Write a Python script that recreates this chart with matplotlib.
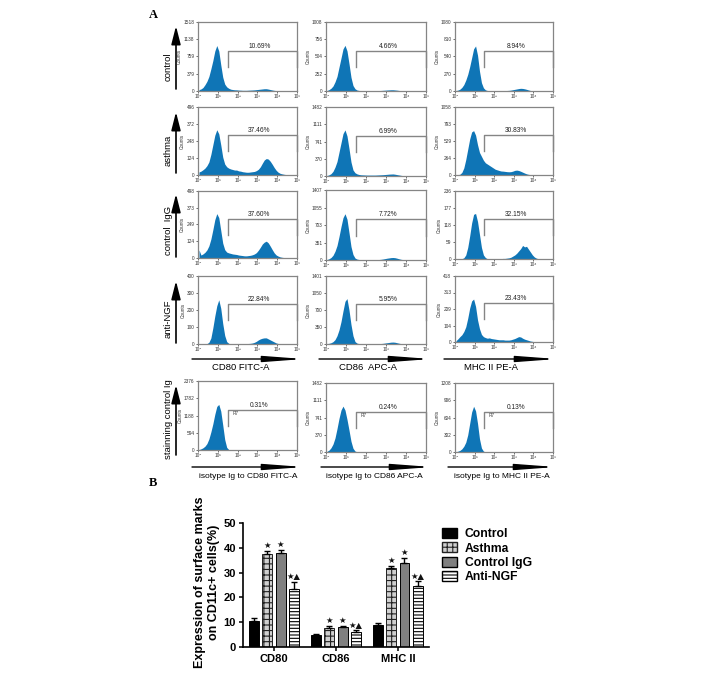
import matplotlib
matplotlib.use("Agg")
import matplotlib.pyplot as plt
import numpy as np
from matplotlib.patches import Patch

plt.rcParams['font.family'] = ['Liberation Sans', 'DejaVu Sans']
plt.rcParams['hatch.linewidth'] = 0.8

W, H = 708, 678

# flow histograms, counts per 0.1 decade bin from 10^0 to 10^5
control_cd80 = [30, 45, 76, 137, 212, 319, 486, 668, 880, 1000, 880, 577, 304, 152, 91, 60, 40, 32, 26, 25,
                20, 18, 15, 15, 15, 18, 20, 22, 25, 30, 35, 40, 45, 50, 50, 42, 32, 22, 14, 9,
                6, 4, 3, 2, 1, 1, 0, 0, 0, 0]
control_cd86 = [7, 20, 40, 73, 133, 213, 347, 480, 614, 667, 587, 400, 200, 80, 33, 14, 8, 6, 5, 4,
                4, 4, 4, 5, 5, 6, 7, 8, 10, 12, 14, 16, 18, 18, 15, 12, 8, 5, 3, 2,
                1, 1, 0, 0, 0, 0, 0, 0, 0, 0]
control_mhc = [7, 14, 28, 56, 100, 170, 260, 380, 520, 660, 705, 560, 310, 130, 50, 18, 8, 6, 5, 4,
               4, 4, 5, 5, 6, 7, 8, 10, 14, 20, 26, 32, 38, 42, 40, 34, 26, 16, 8, 4,
               2, 1, 1, 0, 0, 0, 0, 0, 0, 0]
asthma_cd80 = [22, 28, 38, 50, 68, 95, 150, 220, 290, 330, 300, 220, 130, 80, 60, 50, 44, 40, 36, 36,
               30, 28, 24, 22, 20, 20, 22, 24, 26, 32, 42, 60, 86, 110, 120, 116, 100, 78, 54, 34,
               20, 12, 8, 5, 3, 2, 1, 0, 0, 0]
asthma_cd86 = [10, 25, 50, 100, 190, 310, 510, 710, 910, 990, 860, 590, 300, 130, 70, 45, 32, 26, 24, 22,
               20, 20, 20, 20, 20, 22, 24, 26, 28, 32, 36, 40, 42, 44, 38, 30, 22, 14, 8, 5,
               3, 2, 1, 0, 0, 0, 0, 0, 0, 0]
asthma_mhc = [0, 4, 12, 40, 110, 240, 400, 560, 670, 690, 620, 470, 350, 290, 230, 190, 170, 150, 130, 110,
              90, 80, 70, 62, 60, 56, 52, 50, 52, 60, 72, 76, 70, 58, 44, 30, 18, 10, 6, 3,
              2, 1, 0, 0, 0, 0, 0, 0, 0, 0]
igg_cd80 = [60, 22, 30, 42, 60, 90, 140, 210, 285, 330, 300, 205, 110, 62, 44, 38, 34, 30, 28, 26,
            22, 20, 18, 16, 16, 18, 20, 24, 30, 40, 58, 80, 104, 118, 125, 112, 88, 62, 38, 22,
            14, 8, 5, 3, 2, 1, 0, 0, 0, 0]
igg_cd86 = [9, 25, 50, 95, 175, 290, 470, 670, 850, 930, 820, 550, 270, 110, 40, 18, 10, 6, 6, 5,
            5, 5, 5, 6, 6, 8, 10, 14, 20, 28, 36, 42, 48, 50, 46, 36, 24, 14, 8, 4,
            2, 1, 0, 0, 0, 0, 0, 0, 0, 0]
igg_mhc = [0, 0, 0, 1, 4, 14, 40, 80, 125, 155, 158, 130, 85, 40, 14, 5, 1, 1, 0, 0,
           1, 1, 1, 1, 2, 2, 3, 4, 6, 10, 14, 20, 28, 36, 47, 42, 44, 34, 24, 14,
           7, 3, 1, 1, 0, 0, 0, 0, 0, 0]
ngf_cd80 = [0, 0, 0, 0, 2, 10, 35, 95, 165, 225, 260, 210, 120, 50, 14, 4, 1, 1, 0, 0,
            0, 0, 1, 1, 2, 3, 4, 6, 10, 16, 24, 30, 34, 36, 36, 30, 24, 18, 12, 6,
            3, 2, 1, 0, 0, 0, 0, 0, 0, 0]
ngf_cd86 = [8, 14, 26, 48, 90, 170, 290, 460, 680, 880, 935, 700, 400, 170, 50, 18, 8, 5, 4, 4,
            4, 4, 4, 5, 5, 6, 8, 10, 14, 20, 26, 32, 38, 40, 36, 26, 16, 8, 4, 2,
            1, 0, 0, 0, 0, 0, 0, 0, 0, 0]
ngf_mhc = [8, 20, 34, 46, 66, 96, 150, 215, 260, 272, 225, 140, 84, 48, 34, 28, 24, 26, 22, 20,
           18, 16, 14, 14, 14, 12, 12, 12, 14, 18, 22, 28, 34, 32, 24, 18, 14, 10, 6, 4,
           2, 1, 1, 0, 0, 0, 0, 0, 0, 0]
iso_cd80 = [14, 40, 75, 130, 220, 380, 620, 900, 1230, 1500, 1570, 1340, 860, 360, 90, 16, 4, 1, 0, 0,
            0, 0, 0, 0, 0, 0, 0, 0, 0, 0, 0, 0, 0, 0, 0, 0, 0, 0, 0, 0,
            0, 0, 0, 0, 0, 0, 0, 0, 0, 0]
iso_cd86 = [14, 40, 90, 170, 300, 500, 720, 900, 985, 900, 700, 470, 230, 80, 20, 5, 1, 0, 0, 0,
            0, 0, 0, 0, 0, 0, 0, 0, 0, 0, 0, 0, 0, 0, 0, 0, 0, 0, 0, 0,
            0, 0, 0, 0, 0, 0, 0, 0, 0, 0]
iso_mhc = [6, 14, 28, 55, 100, 170, 300, 500, 700, 800, 720, 500, 230, 70, 15, 3, 0, 0, 0, 0,
           0, 0, 0, 0, 0, 0, 0, 0, 0, 0, 0, 0, 0, 0, 0, 0, 0, 0, 0, 0,
           0, 0, 0, 0, 0, 0, 0, 0, 0, 0]

panel_hists = [[control_cd80, control_cd86, control_mhc],
               [asthma_cd80, asthma_cd86, asthma_mhc],
               [igg_cd80, igg_cd86, igg_mhc],
               [ngf_cd80, ngf_cd86, ngf_mhc],
               [iso_cd80, iso_cd86, iso_mhc]]
panel_ymax = [[1518, 1008, 1080],
              [496, 1482, 1058],
              [498, 1407, 236],
              [400, 1401, 418],
              [2376, 1482, 1208]]
panel_pct = [['10.69%', '4.66%', '8.94%'],
             ['37.46%', '6.99%', '30.83%'],
             ['37.60%', '7.72%', '32.15%'],
             ['22.84%', '5.95%', '23.43%'],
             ['0.31%', '0.24%', '0.13%']]
row_labels = ['control', 'asthma', 'control  IgG', 'anti-NGF', 'stainning control Ig']
x_labels = ['CD80 FITC-A', 'CD86  APC-A', 'MHC II PE-A']
iso_labels = ['isotype Ig to CD80 FITC-A', 'isotype Ig to CD86 APC-A', 'isotype Ig to MHC II PE-A']
decade_labels = ['10⁰', '10¹', '10²', '10³', '10⁴', '10⁵']

# bar chart
groups = ['CD80', 'CD86', 'MHC II']
series = ['Control', 'Asthma', 'Control IgG', 'Anti-NGF']
control_mean = [10.5, 5.0, 9.0]
asthma_mean = [37.3, 7.7, 31.7]
igg_mean = [38.0, 8.0, 34.0]
ngf_mean = [23.3, 6.0, 24.7]
control_err = [1.0, 0.2, 0.6]
asthma_err = [1.5, 0.7, 1.0]
igg_err = [1.3, 0.6, 2.0]
ngf_err = [3.0, 0.7, 1.8]

BLUE = '#0f75b6'
GRAY = '#858585'


def axes_px(x0, x1, y0, y1):
    # pixel box measured from the top left corner of the image
    return fig.add_axes([x0 / W, 1 - y1 / H, (x1 - x0) / W, (y1 - y0) / H])


fig = plt.figure(figsize=(W / 100, H / 100), dpi=100)

# overlay for arrows and free text, in image pixels
over = fig.add_axes([0, 0, 1, 1])
over.set_xlim(0, W)
over.set_ylim(H, 0)
over.axis('off')

col_x = [(198, 297), (326, 426), (455, 553)]
row_y = [[(22, 91), (22, 91), (22, 91)],
         [(107, 175), (107, 176), (107, 175)],
         [(191, 258), (190, 260), (191, 259)],
         [(276, 344), (276, 344), (276, 342)],
         [(381, 450), (383, 452), (383, 452)]]
bins = np.arange(50) * 0.1 + 0.05

for r in range(5):
    for c in range(3):
        ax = axes_px(col_x[c][0], col_x[c][1], row_y[r][c][0], row_y[r][c][1])
        ymax = panel_ymax[r][c]
        ax.fill_between(bins, panel_hists[r][c], color=BLUE, lw=0)
        ax.set_xlim(0, 5)
        ax.set_ylim(0, ymax)
        ax.set_xticks(range(6))
        ax.set_xticklabels(decade_labels)
        ax.set_yticks([0, ymax / 4, ymax / 2, ymax * 3 / 4, ymax])
        ax.set_yticklabels(['0', str(int(ymax / 4)), str(int(ymax / 2)), str(int(ymax * 3 / 4)), str(ymax)])
        ax.tick_params(labelsize=3.4, length=1.5, width=0.5, pad=1, colors='#333333')
        ax.set_ylabel('Counts', fontsize=3.4, labelpad=1, color='#333333')
        for s in ax.spines.values():
            s.set_linewidth(0.9)
            s.set_color(GRAY)
        # gate bracket
        ax.plot([0.3, 0.3, 0.997, 0.997], [0.35, 0.585, 0.585, 0.35], transform=ax.transAxes,
                color=GRAY, lw=1.0, clip_on=False)
        ax.text(0.62, 0.6, panel_pct[r][c], transform=ax.transAxes, fontsize=4.8,
                ha='center', va='bottom', color='#222222')
        if r == 4:
            ax.text(0.345, 0.53, 'R7', transform=ax.transAxes, fontsize=3.4, va='center', color='#444444')

# vertical arrows with the row names
v_arrows = [(89, 26), (173, 112), (257, 194), (343, 281), (455, 385)]
label_y = [67, 150, 230, 319, 419]
for (y0, y1), name, ly in zip(v_arrows, row_labels, label_y):
    over.annotate('', xy=(176, y1), xytext=(176, y0),
                  arrowprops=dict(arrowstyle='-|>,head_width=0.28,head_length=1.1', color='k', lw=1.2,
                                  mutation_scale=10, shrinkA=0, shrinkB=0))
    over.text(168.5, ly, name, rotation=90, fontsize=6.8, ha='center', va='center')

# horizontal arrows with the marker names
for x0, x1, lx, name in zip([192, 319, 444], [304, 431, 557], [241, 368, 491], x_labels):
    over.annotate('', xy=(x1, 359), xytext=(x0, 359),
                  arrowprops=dict(arrowstyle='-|>,head_width=0.18,head_length=2.4', color='k', lw=1.0,
                                  mutation_scale=10, shrinkA=0, shrinkB=0))
    over.text(lx, 367, name, fontsize=6.8, ha='center', va='center')
for x0, x1, lx, name in zip([192, 321, 448], [304, 432, 556], [248, 374, 502], iso_labels):
    over.annotate('', xy=(x1, 467), xytext=(x0, 467),
                  arrowprops=dict(arrowstyle='-|>,head_width=0.18,head_length=2.4', color='k', lw=1.0,
                                  mutation_scale=10, shrinkA=0, shrinkB=0))
    over.text(lx, 477, name, fontsize=6, ha='center', va='center')

over.text(149, 15, 'A', fontsize=9, family='Liberation Serif', weight='bold', va='center')
over.text(149, 483, 'B', fontsize=9, family='Liberation Serif', weight='bold', va='center')

# panel B
bx = axes_px(243, 429, 523, 647)
group_x = np.array([0, 4.67, 9.33])
width = 0.75
all_means = [control_mean, asthma_mean, igg_mean, ngf_mean]
all_errs = [control_err, asthma_err, igg_err, ngf_err]
styles = [dict(color='k', edgecolor='k'),
          dict(facecolor='#d0d0d0', edgecolor='#222222', hatch='+++'),
          dict(facecolor='#808080', edgecolor='k'),
          dict(facecolor='white', edgecolor='k', hatch='-----')]
marks = ['', '★', '★', '★▲']
for i in range(4):
    xs = group_x + i
    bx.bar(xs, all_means[i], width, lw=0.7, yerr=[[0, 0, 0], all_errs[i]],
           error_kw=dict(ecolor='k', elinewidth=1.0, capsize=2, capthick=1.0), **styles[i])
    if marks[i]:
        for x, m, e in zip(xs, all_means[i], all_errs[i]):
            bx.text(x, m + e + 0.3, marks[i], fontsize=6, ha='center', va='bottom', color='#111111',
                    family=['DejaVu Sans'])
bx.set_xlim(-0.825, 13.175)
bx.set_ylim(0, 50)
bx.set_yticks(range(0, 51, 10))
bx.set_xticks(group_x + 1.5)
bx.set_xticklabels(groups)
bx.tick_params(length=3, width=1.1, labelsize=8, pad=2)
for lab in bx.get_xticklabels() + bx.get_yticklabels():
    lab.set_fontweight('bold')
bx.spines['top'].set_visible(False)
bx.spines['right'].set_visible(False)
bx.spines['left'].set_linewidth(1.2)
bx.spines['bottom'].set_linewidth(1.2)
over.text(207, 582, 'Expression of surface marks\non CD11c+ cells(%)', rotation=90, fontsize=9,
          weight='bold', ha='center', va='center', linespacing=1.3, multialignment='center')

handles = [Patch(label=s, **st) for s, st in zip(series, styles)]
fig.legend(handles=handles, loc='upper left', bbox_to_anchor=(431 / W, 1 - 517 / H), frameon=False,
           prop=dict(weight='bold', size=8.7), handlelength=1.25, handleheight=0.9,
           labelspacing=0.19, handletextpad=0.66)

fig.savefig('out.png', dpi=100)
